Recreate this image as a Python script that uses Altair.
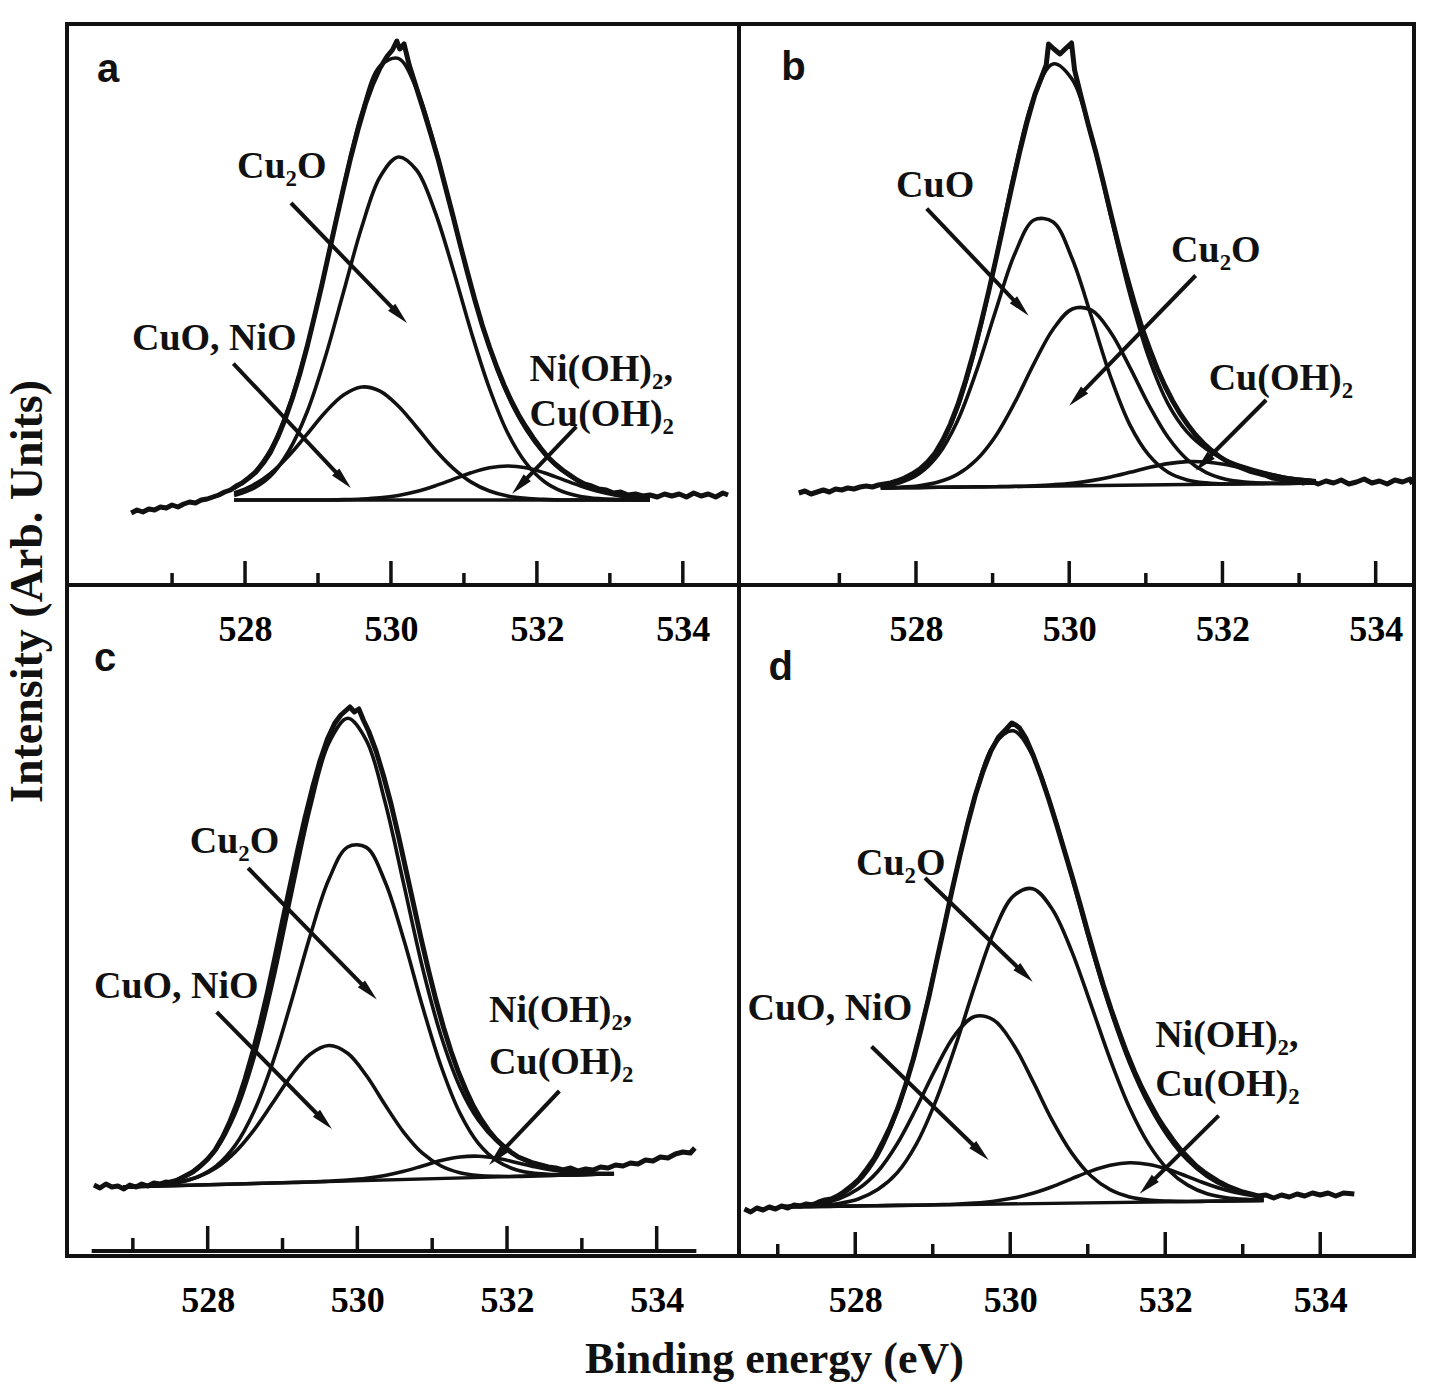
import math
import altair as alt
import pandas as pd

# O 1s XPS spectra of four samples (a-d): raw counts, fitted envelope,
# fitted components and the linear background.  Energies in eV, intensity in a.u.

# ---------------- panel a ----------------
A_RAW_EV = [526.44, 526.52, 526.60, 526.68, 526.76, 526.84, 526.92, 527.00, 527.08, 527.16,
            527.24, 527.32, 527.40, 527.48, 527.56, 527.64, 527.72, 527.80, 527.88, 527.96,
            528.05, 528.15, 528.25, 528.35, 528.45, 528.55, 528.65, 528.75, 528.85, 528.95,
            529.05, 529.15, 529.25, 529.35, 529.45, 529.55, 529.65, 529.75, 529.85, 529.95,
            530.02, 530.08, 530.12, 530.18, 530.25,
            530.35, 530.45, 530.55, 530.65, 530.75, 530.85, 530.95, 531.05, 531.15, 531.25,
            531.35, 531.45, 531.55, 531.65, 531.75, 531.85, 531.95, 532.05, 532.15, 532.25,
            532.35, 532.45, 532.55, 532.65, 532.75, 532.85, 532.95, 533.05, 533.15, 533.25,
            533.35, 533.45, 533.55, 533.65, 533.75, 533.85, 533.95, 534.05, 534.15, 534.25,
            534.35, 534.45, 534.55, 534.62]
A_RAW = [72, 75, 73, 76, 75, 78, 77, 80, 78, 81,
         83, 82, 85, 86, 88, 90, 93, 95, 99, 102,
         107, 113, 122, 133, 148, 166, 187, 211, 238, 268,
         299, 332, 365, 397, 428, 456, 481, 501, 517, 529,
         535, 544, 536, 541, 520,
         497, 474, 450, 425, 397, 369, 340, 312, 285, 260,
         238, 218, 200, 184, 170, 158, 147, 137, 128, 121,
         115, 110, 105, 101, 99, 96, 95, 92, 93, 90,
         91, 89, 90, 88, 91, 89, 91, 88, 92, 89,
         91, 88, 92, 90]
A_FIT_EV = [527.85, 528.10, 528.35, 528.60, 528.85, 529.10, 529.35, 529.60, 529.85, 530.10,
            530.35, 530.60, 530.85, 531.10, 531.35, 531.60, 531.85, 532.10, 532.35, 532.60,
            532.85, 533.10, 533.35, 533.55]
A_ENVELOPE = [96.5, 110.5, 135.7, 178.3, 238.8, 315.8, 398.4, 472.0, 519.0, 526.6,
              496.5, 438.8, 368.5, 298.1, 237.7, 190.0, 155.8, 131.3, 114.1, 102.6,
              94.9, 90.1, 87.2, 86.2]
A_CU2O = [89.5, 96.0, 109.0, 134.0, 173.0, 228.0, 293.0, 358.0, 408.0, 428.0,
          415.0, 374.0, 316.0, 253.0, 196.5, 152.0, 122.0, 103.5, 93.5, 88.6,
          86.4, 85.5, 85.0, 85.0]
A_CUO_NIO = [92.0, 99.5, 111.7, 129.3, 150.8, 172.8, 190.0, 198.0, 193.8, 179.0,
             158.0, 135.8, 116.9, 102.9, 94.0, 89.0, 86.6, 85.6, 85.0, 85.0,
             85.0, 85.0, 85.0, 85.0]
A_HYDROXIDE = [85.0, 85.0, 85.0, 85.0, 85.0, 85.0, 85.4, 86.0, 87.2, 89.6,
               93.5, 99.0, 105.6, 112.2, 117.2, 119.0, 117.2, 112.2, 105.6, 99.0,
               93.5, 89.6, 87.2, 86.2]
A_BASE_EV = [527.85, 533.55]
A_BASE = [85.0, 85.0]

# ---------------- panel b ----------------
B_RAW_EV = [526.47, 526.55, 526.63, 526.71, 526.79, 526.87, 526.95, 527.03, 527.11, 527.19,
            527.27, 527.35, 527.43, 527.51, 527.59, 527.67, 527.75, 527.85, 527.95, 528.05,
            528.15, 528.25, 528.35, 528.45, 528.55, 528.65, 528.75, 528.85, 528.95, 529.05,
            529.15, 529.25, 529.35, 529.45, 529.55, 529.65, 529.70, 529.73, 529.80, 529.88,
            529.96, 530.03, 530.07, 530.15, 530.25,
            530.35, 530.45, 530.55, 530.65, 530.75, 530.85, 530.95, 531.05, 531.15, 531.25,
            531.35, 531.45, 531.55, 531.65, 531.75, 531.85, 531.95, 532.05, 532.15, 532.25,
            532.35, 532.45, 532.55, 532.65, 532.75, 532.85, 532.95, 533.05, 533.15, 533.25,
            533.35, 533.45, 533.55, 533.65, 533.75, 533.85, 533.95, 534.05, 534.15, 534.25,
            534.35, 534.45, 534.48]
B_RAW = [92, 94, 91, 93, 95, 93, 96, 95, 97, 96,
         98, 99, 98, 100, 101, 102, 104, 107, 111, 116,
         123, 132, 145, 161, 181, 205, 232, 262, 294, 328,
         363, 398, 432, 463, 490, 510, 520, 541, 536, 531,
         537, 542, 515, 490, 460,
         432, 401, 369, 338, 309, 282, 257, 236, 216, 199,
         184, 171, 160, 150, 142, 135, 129, 124, 120, 117,
         114, 112, 110, 107, 106, 104, 105, 102, 104, 101,
         104, 102, 105, 101, 103, 106, 102, 104, 101, 105,
         103, 106, 101]
B_FIT_EV = [527.54, 527.79, 528.04, 528.29, 528.54, 528.79, 529.04, 529.29, 529.54, 529.79,
            530.04, 530.29, 530.54, 530.79, 531.04, 531.29, 531.54, 531.79, 532.04, 532.29,
            532.54, 532.79, 533.04, 533.22]
B_ENVELOPE = [98.8, 102.9, 113.1, 135.3, 176.5, 241.3, 325.1, 415.4, 488.1, 521.1,
              505.4, 448.6, 369.8, 291.2, 227.0, 181.2, 152.9, 136.0, 125.1, 118.0,
              112.4, 108.1, 105.4, 104.2]
B_CUO = [98.6, 102.3, 111.2, 130.1, 163.8, 214.1, 274.3, 331.2, 365.0, 363.0,
         326.0, 268.2, 208.1, 160.4, 129.8, 112.7, 105.1, 102.1, 101.0, 101.2,
         101.4, 101.6, 101.8, 102.0]
B_CU2O = [97.2, 97.8, 99.3, 102.9, 110.6, 125.3, 149.1, 182.6, 221.4, 255.8,
          276.0, 274.8, 252.8, 217.9, 179.9, 147.7, 125.4, 112.3, 105.7, 102.9,
          101.9, 101.6, 101.8, 102.0]
B_HYDROXIDE = [97.0, 97.2, 97.4, 97.7, 97.9, 98.1, 98.3, 98.6, 99.3, 100.3,
               101.8, 104.4, 108.1, 112.7, 117.5, 121.4, 123.4, 123.0, 120.4, 116.3,
               111.9, 108.1, 105.4, 104.2]
B_BASE_EV = [527.54, 533.22]
B_BASE = [97.0, 102.0]

# ---------------- panel c ----------------
C_RAW_EV = [526.48, 526.56, 526.64, 526.72, 526.80, 526.88, 526.96, 527.04, 527.12, 527.20,
            527.28, 527.36, 527.44, 527.52, 527.60,
            527.70, 527.80, 527.90, 528.00, 528.10, 528.20, 528.30, 528.40, 528.50, 528.60,
            528.70, 528.80, 528.90, 529.00, 529.10, 529.20, 529.30, 529.40, 529.50, 529.60,
            529.70,
            529.78, 529.84, 529.90, 529.96, 530.02, 530.08, 530.15,
            530.25, 530.35, 530.45, 530.55, 530.65, 530.75, 530.85, 530.95, 531.05, 531.15,
            531.25, 531.35, 531.45, 531.55, 531.65, 531.75, 531.85, 531.95, 532.05, 532.15,
            532.25, 532.35, 532.45, 532.55, 532.65, 532.75, 532.85, 532.95, 533.05, 533.15,
            533.25, 533.35, 533.45, 533.55, 533.65, 533.75, 533.85, 533.95, 534.05, 534.15,
            534.25, 534.35, 534.45, 534.51]
C_RAW = [71, 68, 72, 69, 70, 67, 71, 69, 72, 70,
         73, 72, 74, 73, 76,
         80, 84, 90, 97, 106, 119, 135, 154, 177, 203,
         232, 264, 299, 335, 370, 405, 438, 468, 495, 517,
         533,
         541, 545, 549, 544, 547, 536, 525,
         505, 480, 452, 420, 386, 352, 318, 286, 256, 229,
         205, 184, 166, 150, 137, 126, 117, 110, 104, 99,
         96, 93, 91, 89, 88, 86, 88, 85, 87, 86,
         89, 88, 91, 90, 93, 92, 96, 95, 99, 98,
         102, 104, 103, 108]
C_FIT_EV = [526.87, 527.12, 527.37, 527.62, 527.87, 528.12, 528.37, 528.62, 528.87, 529.12,
            529.37, 529.62, 529.87, 530.12, 530.37, 530.62, 530.87, 531.12, 531.37, 531.62,
            531.87, 532.12, 532.37, 532.62, 532.87, 533.12, 533.37, 533.43]
C_ENVELOPE = [69.0, 70.3, 72.5, 77.2, 87.4, 107.4, 143.0, 198.4, 273.9, 362.2,
              448.2, 513.0, 537.7, 515.7, 454.0, 371.9, 288.5, 219.7, 169.1, 135.5,
              114.2, 100.3, 91.7, 86.6, 83.6, 82.6, 82.5, 82.5]
C_CU2O = [69.0, 69.9, 71.2, 73.8, 79.4, 90.4, 110.9, 144.8, 193.7, 255.0,
          320.4, 376.7, 409.0, 408.6, 374.3, 316.5, 249.7, 189.5, 143.0, 112.4,
          95.0, 86.3, 82.6, 81.4, 81.1, 81.6, 82.1, 82.2]
C_CUO_NIO = [69.0, 69.9, 71.3, 73.9, 79.0, 88.5, 104.1, 126.1, 153.2, 180.7,
             201.8, 210.5, 202.8, 180.5, 151.2, 123.7, 102.8, 90.0, 83.3, 80.5,
             79.7, 79.6, 80.1, 80.6, 81.1, 81.6, 82.1, 82.2]
C_HYDROXIDE = [69.0, 69.5, 70.0, 70.5, 71.0, 71.5, 72.0, 72.5, 73.0, 73.5,
               74.0, 74.8, 75.9, 77.6, 80.5, 84.7, 90.0, 95.4, 99.0, 99.8,
               97.7, 93.6, 89.2, 85.8, 83.6, 82.6, 82.5, 82.5]
C_BASE_EV = [526.87, 533.43]
C_BASE = [69.0, 82.2]
C_AXIS_EV = [526.45, 534.53]

# ---------------- panel d ----------------
D_RAW_EV = [526.57, 526.65, 526.73, 526.81, 526.89, 526.97, 527.05, 527.13, 527.21, 527.29,
            527.37, 527.45, 527.53, 527.61, 527.69, 527.77,
            527.85, 527.95, 528.05, 528.15, 528.25, 528.35, 528.45, 528.55, 528.65, 528.75,
            528.85, 528.95, 529.05, 529.15, 529.25, 529.35, 529.45, 529.55, 529.65, 529.75,
            529.85, 529.95,
            530.02, 530.07, 530.12,
            530.20, 530.30, 530.40, 530.50, 530.60, 530.70, 530.80, 530.90, 531.00, 531.10,
            531.20, 531.30, 531.40, 531.50, 531.60, 531.70, 531.80, 531.90, 532.00, 532.10,
            532.20, 532.30, 532.40, 532.50, 532.60, 532.70, 532.80, 532.90, 533.00, 533.10,
            533.20, 533.30, 533.40, 533.50, 533.60, 533.70, 533.80, 533.90, 534.00, 534.10,
            534.20, 534.30, 534.44]
D_RAW = [47, 44, 48, 46, 49, 47, 50, 48, 51, 50,
         52, 51, 54, 56, 57, 60,
         64, 70, 77, 87, 98, 113, 129, 148, 171, 197,
         227, 259, 295, 330, 366, 400, 432, 461, 485, 505,
         519, 527,
         533, 531, 528,
         518, 500, 479, 456, 431, 405, 379, 352, 324, 297,
         271, 247, 225, 204, 185, 168, 153, 139, 127, 116,
         106, 98, 90, 84, 79, 74, 70, 67, 64, 62,
         60, 61, 58, 61, 59, 62, 60, 63, 61, 63,
         60, 63, 62]
D_FIT_EV = [527.04, 527.29, 527.54, 527.79, 528.04, 528.29, 528.54, 528.79, 529.04, 529.29,
            529.54, 529.79, 530.04, 530.29, 530.54, 530.79, 531.04, 531.29, 531.54, 531.79,
            532.04, 532.29, 532.54, 532.79, 533.04, 533.27]
D_ENVELOPE = [49.3, 50.6, 53.4, 60.0, 74.2, 100.6, 144.5, 209.6, 291.9, 379.9,
              458.8, 511.1, 525.2, 500.3, 447.1, 380.2, 310.3, 246.7, 193.0, 151.0,
              119.1, 95.8, 79.6, 69.1, 62.7, 59.3]
D_CU2O = [49.0, 49.6, 50.5, 52.5, 57.0, 66.4, 83.1, 112.1, 155.1, 209.3,
          269.6, 324.3, 359.9, 367.3, 347.1, 305.4, 251.6, 196.5, 148.2, 111.4,
          86.1, 70.9, 62.3, 58.3, 56.6, 56.0]
D_CUO_NIO = [49.3, 50.3, 52.4, 57.3, 67.2, 84.5, 112.0, 148.3, 187.7, 221.4,
             239.5, 235.8, 211.6, 175.1, 135.9, 103.4, 80.2, 66.3, 59.0, 55.9,
             54.9, 54.5, 54.7, 55.0, 55.3, 55.5]
D_HYDROXIDE = [49.0, 49.3, 49.5, 49.8, 50.0, 50.3, 50.6, 50.8, 51.3, 51.8,
               52.9, 54.8, 57.9, 62.7, 69.3, 77.2, 84.9, 90.7, 93.2, 91.5,
               86.5, 79.4, 72.0, 65.8, 61.4, 58.8]
D_BASE_EV = [527.04, 533.27]
D_BASE = [49.0, 55.5]

# ---------------- axis ticks ----------------
TICK_MAJOR = [528, 530, 532, 534]
TICK_MINOR = [527, 529, 531, 533]

# ---------------- annotations: (text, eV, intensity) and arrows (eV0, I0, eV1, I1) ----------------
A_LABELS = [("Cu₂O", 527.89, 407.5), ("CuO, NiO", 526.45, 235.5),
            ("Ni(OH)₂,", 531.90, 204.0), ("Cu(OH)₂", 531.90, 159.0)]
A_ARROWS = [(528.63, 382.0, 530.22, 262.0), (527.84, 221.4, 529.45, 97.0),
            (532.54, 158.3, 531.66, 91.3)]
B_LABELS = [("CuO", 527.74, 388.0), ("Cu₂O", 531.33, 323.0), ("Cu(OH)₂", 531.82, 195.0)]
B_ARROWS = [(528.14, 376.4, 529.47, 269.3), (531.65, 309.5, 530.00, 179.3),
            (532.57, 185.0, 531.65, 114.3)]
C_LABELS = [("Cu₂O", 527.76, 403.0), ("CuO, NiO", 526.48, 258.0),
            ("Ni(OH)₂,", 531.76, 234.0), ("Cu(OH)₂", 531.76, 182.0)]
C_ARROWS = [(528.54, 388.0, 530.26, 256.4), (528.12, 244.0, 529.66, 127.0),
            (532.70, 165.0, 531.76, 91.0)]
D_LABELS = [("Cu₂O", 528.01, 381.0), ("CuO, NiO", 526.61, 236.0),
            ("Ni(OH)₂,", 531.87, 209.0), ("Cu(OH)₂", 531.87, 160.0)]
D_ARROWS = [(528.90, 378.0, 530.29, 274.2), (528.21, 209.5, 529.72, 96.0),
            (532.69, 140.3, 531.67, 62.2)]

PANEL_TAGS = [("a", 525.97, 503.0), ("b", 526.24, 505.0), ("c", 526.48, 585.0), ("d", 526.88, 576.0)]

X_TITLE = "Binding energy (eV)"
Y_TITLE = "Intensity (Arb. Units)"

SERIF = "Liberation Serif"
SANS = "Liberation Sans"
INK = "#111111"
HEAD = "M0,0L0.5,2.2L-0.5,2.2Z"   # arrow head, tip at the symbol centre
HEAD_SIZE = 400


def panel(tag, x_dom, width, height, raw_ev, raw, fit_ev, fits, base_ev, base,
          labels, arrows, tick_lift=0, axis_ev=None, x_title=False, y_title=False):
    xs = alt.Scale(domain=x_dom, nice=False, zero=False)
    ys = alt.Scale(domain=[0, height], nice=False, zero=False)
    x_axis = dict(values=TICK_MAJOR, format="d", ticks=False, tickSize=0,
                  domain=False, grid=False, labelFont=SERIF,
                  labelFontWeight="bold", labelFontSize=36, labelColor="black",
                  labelPadding=27, labelFlush=False, labelOverlap=False, title=None)
    if x_title:
        # shared x title, centred under the whole figure
        x_axis.update(title=X_TITLE, titleFont=SERIF, titleFontWeight="bold",
                      titleFontSize=44, titleColor=INK, titleX=35, titleY=116,
                      titleAlign="center", titleBaseline="alphabetic", titleAngle=0)
    X = alt.X("ev:Q", scale=xs, axis=alt.Axis(**x_axis))
    if y_title:
        # shared y title, running up the left edge of the figure
        y_axis = alt.Axis(title=Y_TITLE, labels=False, ticks=False, domain=False,
                          grid=False, titleFont=SERIF, titleFontWeight="bold",
                          titleFontSize=46, titleColor=INK, titleAngle=270,
                          titleX=-26, titleY=6, titleAlign="center",
                          titleBaseline="alphabetic")
        Y = alt.Y("inten:Q", scale=ys, axis=y_axis)
    else:
        Y = alt.Y("inten:Q", scale=ys, axis=None)

    raw_df = pd.DataFrame({"ev": raw_ev, "inten": raw})
    fit_rows = []
    for name, vals in fits:
        for e, v in zip(fit_ev, vals):
            fit_rows.append({"ev": e, "inten": v, "series": name})
    fit_df = pd.DataFrame(fit_rows)
    base_df = pd.DataFrame({"ev": base_ev, "inten": base})

    raw_line = alt.Chart(raw_df).mark_line(color=INK, strokeWidth=5, strokeJoin="round",
                                           clip=True).encode(x=X, y=Y)
    fit_lines = alt.Chart(fit_df).mark_line(color=INK, strokeWidth=3.6,
                                            interpolate="catmull-rom",
                                            clip=True).encode(x=X, y=Y, detail="series:N")
    base_line = alt.Chart(base_df).mark_line(color=INK, strokeWidth=3.4).encode(x=X, y=Y)

    major = alt.Chart(pd.DataFrame({"ev": TICK_MAJOR})).mark_rule(
        color=INK, strokeWidth=3.5).encode(
        x=X, y=alt.value(height - tick_lift), y2=alt.value(height - tick_lift - 24))
    minor = alt.Chart(pd.DataFrame({"ev": TICK_MINOR})).mark_rule(
        color=INK, strokeWidth=3.5).encode(
        x=X, y=alt.value(height - tick_lift), y2=alt.value(height - tick_lift - 12))

    lab_df = pd.DataFrame(labels, columns=["text", "ev", "inten"])
    texts = alt.Chart(lab_df).mark_text(
        font=SERIF, fontWeight="bold", fontSize=38, align="left", baseline="alphabetic",
        color=INK).encode(x=X, y=Y, text="text:N")

    # arrows: shaft stops short of the tip, a filled head sits on the tip
    sx = width / (x_dom[1] - x_dom[0])
    shafts, heads = [], []
    for e0, i0, e1, i1 in arrows:
        dx = (e1 - e0) * sx
        dy = -(i1 - i0)
        n = math.hypot(dx, dy)
        ux, uy = dx / n, dy / n
        shafts.append({"ev": e0, "inten": i0,
                       "ev2": e1 - 14 * ux / sx, "inten2": i1 + 14 * uy})
        heads.append({"ev": e1, "inten": i1,
                      "angle": math.degrees(math.atan2(dx, -dy)) % 360})
    shaft = alt.Chart(pd.DataFrame(shafts)).mark_rule(color=INK, strokeWidth=4).encode(
        x=X, y=Y, x2="ev2:Q", y2="inten2:Q")
    head = alt.Chart(pd.DataFrame(heads)).mark_point(
        shape=HEAD, size=HEAD_SIZE, filled=True, color=INK, opacity=1, strokeWidth=0).encode(
        x=X, y=Y, angle=alt.Angle("angle:Q", scale=None))

    tag_df = pd.DataFrame([tag], columns=["text", "ev", "inten"])
    tag_text = alt.Chart(tag_df).mark_text(
        font=SANS, fontWeight="bold", fontSize=40, align="left", baseline="alphabetic",
        color=INK).encode(x=X, y=Y, text="text:N")

    layers = [raw_line, fit_lines, base_line, major, minor, texts, shaft, head, tag_text]
    if axis_ev is not None:
        axis_df = pd.DataFrame({"ev": [axis_ev[0]], "ev2": [axis_ev[1]]})
        layers.append(alt.Chart(axis_df).mark_rule(color=INK, strokeWidth=4).encode(
            x=X, x2="ev2:Q", y=alt.value(height - 5)))
    return alt.layer(*layers).properties(width=width, height=height)


pa = panel(PANEL_TAGS[0], [525.56, 534.77], 672, 561, A_RAW_EV, A_RAW, A_FIT_EV,
           [("envelope", A_ENVELOPE), ("Cu2O", A_CU2O), ("CuO/NiO", A_CUO_NIO),
            ("hydroxide", A_HYDROXIDE)], A_BASE_EV, A_BASE, A_LABELS, A_ARROWS)
pb = panel(PANEL_TAGS[1], [525.69, 534.50], 675, 561, B_RAW_EV, B_RAW, B_FIT_EV,
           [("envelope", B_ENVELOPE), ("CuO", B_CUO), ("Cu2O", B_CU2O),
            ("hydroxide", B_HYDROXIDE)], B_BASE_EV, B_BASE, B_LABELS, B_ARROWS)
pc = panel(PANEL_TAGS[2], [526.12, 535.10], 672, 671, C_RAW_EV, C_RAW, C_FIT_EV,
           [("envelope", C_ENVELOPE), ("Cu2O", C_CU2O), ("CuO/NiO", C_CUO_NIO),
            ("hydroxide", C_HYDROXIDE)], C_BASE_EV, C_BASE, C_LABELS, C_ARROWS,
           tick_lift=6, axis_ev=C_AXIS_EV, y_title=True)
pd_ = panel(PANEL_TAGS[3], [526.50, 535.21], 675, 671, D_RAW_EV, D_RAW, D_FIT_EV,
            [("envelope", D_ENVELOPE), ("Cu2O", D_CU2O), ("CuO/NiO", D_CUO_NIO),
             ("hydroxide", D_HYDROXIDE)], D_BASE_EV, D_BASE, D_LABELS, D_ARROWS,
            x_title=True)

chart = alt.concat(pa, pb, pc, pd_, columns=2, spacing=0, bounds="flush",
                   align="each").properties(
    padding={"left": 1, "top": 22, "right": 4, "bottom": 4},
    background="white",
).configure_view(stroke=INK, strokeWidth=4)

chart.save("out.html", embed_options={"renderer": "svg", "actions": False})
